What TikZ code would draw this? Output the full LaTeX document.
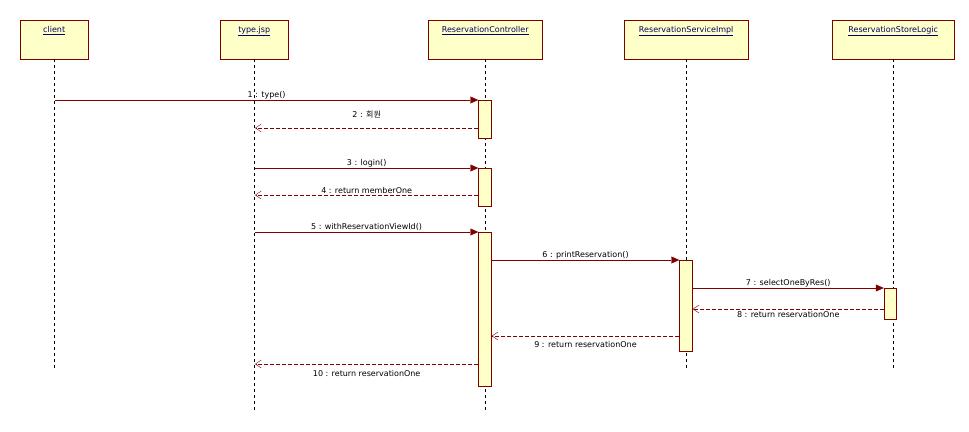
\documentclass[tikz,border=0pt]{standalone}
\usepackage{fontspec}
\setmainfont{DejaVu Sans}
\newfontfamily\kr{Noto Sans CJK KR}
\usetikzlibrary{arrows.meta}
\definecolor{dred}{RGB}{128,0,0}
\definecolor{lyel}{RGB}{255,255,200}
\begin{document}
\begin{tikzpicture}[x=1pt,y=-1pt,font=\fontsize{8}{9.5}\selectfont,
  obj/.style={draw=dred,fill=lyel,minimum height=39pt,anchor=north west,inner sep=0pt},
  life/.style={dash pattern=on 3pt off 3pt,black},
  act/.style={draw=dred,fill=lyel},
  call/.style={dred,-{Triangle[length=8pt,width=7pt]}},
  ret/.style={dred,dash pattern=on 4pt off 2pt,-{Straight Barb[length=6pt,width=8pt]}},
  lbl/.style={inner sep=1pt,text=black}]
\useasboundingbox (0,0) rectangle (969,431);
\foreach \n/\x/\w/\t/\e in {c/20/68/client/370, t/220/68/type.jsp/410, r/428/114/ReservationController/410, s/624/124/ReservationServiceImpl/370, l/832/122/ReservationStoreLogic/370}{
  \node[obj,minimum width=\w pt] (\n) at (\x,20) {};
  \node[lbl,anchor=north,text=black!60!blue] (\n lbl) at ([yshift=-5pt]\n.north) {\underline{\t}};
  \coordinate (\n e) at (\n.south |- 0,\e);
  \draw[life] (\n.south) -- (\n e);
}
\node[act,minimum width=13pt,minimum height=38pt,inner sep=0pt,anchor=north] (a1) at (485,100) {};
\node[act,minimum width=13pt,minimum height=38pt,inner sep=0pt,anchor=north] (a2) at (485,168) {};
\node[act,minimum width=13pt,minimum height=154pt,inner sep=0pt,anchor=north] (a3) at (485,232) {};
\node[act,minimum width=13pt,minimum height=91pt,inner sep=0pt,anchor=north] (a4) at (686,260) {};
\node[act,minimum width=12pt,minimum height=31pt,inner sep=0pt,anchor=north] (a5) at (890,288) {};
\coordinate (c1) at (55,100); \coordinate (t2) at (255,128);
\coordinate (t3) at (255,168); \coordinate (t4) at (255,195);
\coordinate (t5) at (255,232); \coordinate (t10) at (255,364);
\draw[call] (c1) -- (a1.north west) node[lbl,pos=0.5,above] {1 : type()};
\draw[ret] (a1.west |- 0,128) -- (t2) node[lbl,midway,above=9pt] {2 : {\kr 회원}};
\draw[call] (t3) -- (a2.north west) node[lbl,midway,above] {3 : login()};
\draw[ret] (a2.west |- 0,195) -- (t4) node[lbl,midway,above] {4 : return memberOne};
\draw[call] (t5) -- (a3.north west) node[lbl,midway,above] {5 : withReservationViewId()};
\draw[call] (a3.east |- 0,260) -- (a4.north west) node[lbl,midway,above] {6 : printReservation()};
\draw[call] (a4.east |- 0,288) -- (a5.north west) node[lbl,midway,above] {7 : selectOneByRes()};
\draw[ret] (a5.west |- 0,309) -- (a4.east |- 0,309) node[lbl,midway,below=1pt] {8 : return reservationOne};
\draw[ret] (a4.west |- 0,336) -- (a3.east |- 0,336) node[lbl,midway,below=4pt] {9 : return reservationOne};
\draw[ret] (a3.west |- 0,364) -- (t10) node[lbl,midway,below=5pt] {10 : return reservationOne};
\end{tikzpicture}
\end{document}
